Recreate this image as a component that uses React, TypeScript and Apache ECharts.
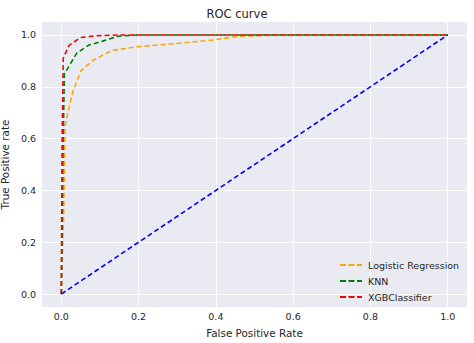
import React, { useEffect, useRef } from "react";
import * as echarts from "echarts";

const tickValues = [0, 0.2, 0.4, 0.6, 0.8, 1.0];

const lrFpr = [0, 0.006, 0.01, 0.02, 0.03, 0.05, 0.08, 0.13, 0.2, 0.29, 0.39, 0.46, 0.55, 1.0];
const lrTpr = [0, 0.3, 0.65, 0.72, 0.78, 0.86, 0.9, 0.94, 0.955, 0.966, 0.98, 0.995, 1.0, 1.0];

const knnFpr = [0, 0.005, 0.008, 0.02, 0.04, 0.07, 0.115, 0.15, 0.2, 1.0];
const knnTpr = [0, 0.6, 0.85, 0.88, 0.93, 0.96, 0.98, 0.996, 1.0, 1.0];

const xgbFpr = [0, 0.002, 0.005, 0.02, 0.05, 0.09, 0.15, 1.0];
const xgbTpr = [0, 0.6, 0.91, 0.96, 0.99, 0.997, 1.0, 1.0];

const diagFpr = [0, 1];
const diagTpr = [0, 1];

const zip = (xs: number[], ys: number[]) => xs.map((x, i) => [x, ys[i]]);

const FONT = "DejaVu Sans";
const TXT = "#262626";
const DASH_ICON = "path://M0,0h6v2h-6z M8.5,0h6v2h-6z M17,0h5v2h-5z";

export default function App() {
  const ref = useRef<HTMLDivElement>(null);
  useEffect(() => {
    if (!ref.current) return;
    const chart = echarts.init(ref.current, undefined, { renderer: "svg" });
    const mk = (name: string, color: string, data: number[][], z: number) => ({
      name,
      type: "line",
      data,
      showSymbol: false,
      symbol: "none",
      z,
      lineStyle: { color, type: [5, 3], width: 1.6 },
      itemStyle: { color },
    });
    const axisCommon = {
      type: "value",
      min: -0.05,
      max: 1.05,
      axisLine: { show: false },
      axisTick: { show: false, customValues: tickValues },
      splitLine: { show: true, lineStyle: { color: "#ffffff", width: 1 } },
      nameTextStyle: { fontFamily: FONT, fontSize: 10.4, color: TXT },
    };
    chart.setOption({
      animation: false,
      backgroundColor: "#ffffff",
      title: {
        text: "ROC curve",
        left: "center",
        top: 3,
        textStyle: { fontFamily: FONT, fontSize: 11.5, fontWeight: "normal", color: TXT },
      },
      grid: {
        left: 42,
        right: 7,
        top: 22,
        bottom: 36,
        containLabel: false,
        outerBoundsMode: "none",
        show: true,
        backgroundColor: "#EAEAF2",
        borderWidth: 0,
      },
      legend: {
        orient: "vertical",
        left: 335,
        top: 255,
        itemWidth: 22,
        itemHeight: 8,
        itemGap: 6,
        icon: DASH_ICON,
        itemStyle: { borderWidth: 0 },
        data: ["Logistic Regression", "KNN", "XGBClassifier"],
        textStyle: { fontFamily: FONT, fontSize: 9.5, color: TXT, padding: [0, 0, 0, 1] },
      },
      xAxis: {
        ...axisCommon,
        name: "False Positive Rate",
        nameLocation: "middle",
        nameGap: 21,
        axisLabel: {
          customValues: tickValues,
          formatter: (v: number) => v.toFixed(1),
          fontFamily: FONT,
          fontSize: 9.5,
          color: TXT,
          margin: 4,
        },
      },
      yAxis: {
        ...axisCommon,
        name: "True Positive rate",
        nameLocation: "middle",
        nameGap: 21,
        axisLabel: {
          customValues: tickValues,
          formatter: (v: number) => v.toFixed(1),
          fontFamily: FONT,
          fontSize: 9.5,
          color: TXT,
          margin: 6,
        },
      },
      series: [
        mk("Logistic Regression", "#FFA500", zip(lrFpr, lrTpr), 2),
        mk("KNN", "#008000", zip(knnFpr, knnTpr), 3),
        mk("XGBClassifier", "#FF0000", zip(xgbFpr, xgbTpr), 4),
        mk("Baseline", "#0000FF", zip(diagFpr, diagTpr), 5),
      ],
    });
    return () => chart.dispose();
  }, []);
  return <div ref={ref} style={{ width: 474, height: 343, position: "absolute", left: 0, top: 0 }} />;
}
